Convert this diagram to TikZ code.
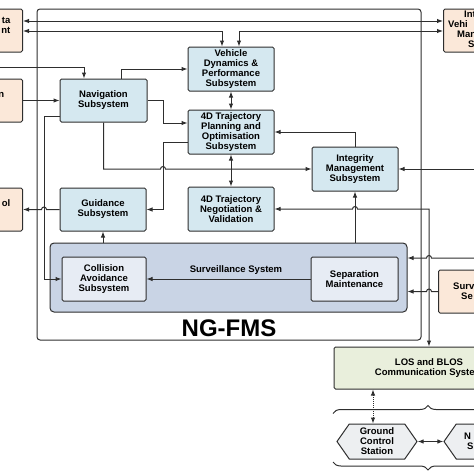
\documentclass[tikz,border=0pt]{standalone}
\usepackage{fontspec}
\setmainfont{Liberation Sans}
\usepackage{tikz}
\usetikzlibrary{arrows.meta,shapes.symbols,decorations.pathreplacing}
\definecolor{edge}{HTML}{2E2E2E}
\definecolor{subblue}{HTML}{D5E8F0}
\definecolor{survfill}{HTML}{C9D4E5}
\definecolor{innerfill}{HTML}{E7ECF4}
\definecolor{extfill}{HTML}{FBE8D9}
\definecolor{commfill}{HTML}{E9EFDC}
\definecolor{hexfill}{HTML}{EDEFF1}
\newcommand{\boxfont}{\fontsize{9.5}{10}\selectfont\bfseries}

\begin{document}
\begin{tikzpicture}[x=1pt,y=1pt,>={Latex[length=6pt,width=4.5pt]},
        sub/.style={draw=edge,fill=subblue,line width=1pt,rounded corners=1.5pt,minimum width=86pt,minimum height=44pt,align=center,font=\boxfont},
        innerbox/.style={sub,fill=innerfill},
        ext/.style={draw=edge,fill=extfill,line width=1pt,rounded corners=1.5pt,minimum height=43pt},
        frag/.style={align=left,font=\boxfont},
        wire/.style={draw=edge,line width=1pt},
        hexa/.style={draw=edge,fill=hexfill,line width=1pt,signal,signal to=west and east,signal pointer angle=110,minimum height=35pt,minimum width=80pt,align=center,font=\boxfont},
        curly/.style={draw=edge,line width=1pt,decorate,decoration={brace,amplitude=8pt}}]
        \tikzstyle{every node}+=[inner sep=0pt]
        \useasboundingbox (0,0) rectangle (474,-474);
        \clip (0,0) rectangle (474,-474);
        % NG-FMS frame and surveillance system
        \node [draw=edge,line width=1pt,rounded corners=3pt,minimum width=384pt,minimum height=331pt] (ngfms) at (229,-174.5) {};
        \node [font=\fontsize{24}{24}\selectfont\bfseries] (ngfmslbl) at (229,-328) {NG-FMS};
        \node [draw=edge,fill=survfill,line width=1pt,rounded corners=4pt,minimum width=357pt,minimum height=69pt] (survsys) at (228.5,-277.5) {};
        % subsystems
        \node [sub] (vehdyn) at (231,-69) {Vehicle\\Dynamics \&\\Performance\\Subsystem};
        \node [sub] (planning) at (231,-132) {4D Trajectory\\Planning and\\Optimisation\\Subsystem};
        \node [sub,minimum width=87pt,minimum height=43pt] (nav) at (103.5,-100.5) {Navigation\\Subsystem};
        \node [sub,minimum height=43pt] (guid) at (103,-209.5) {Guidance\\Subsystem};
        \node [sub] (negot) at (231,-209) {4D Trajectory\\Negotiation \&\\Validation};
        \node [sub] (integ) at (355,-169) {Integrity\\Management\\Subsystem};
        \node [innerbox,minimum width=84pt] (collision) at (104,-279) {Collision\\Avoidance\\Subsystem};
        \node [innerbox,minimum width=87pt] (sepmaint) at (354.5,-279) {Separation\\Maintenance};
        \node [font=\boxfont] (survlbl) at (236,-270) {Surveillance System};
        % outside blocks
        \node [ext,anchor=east,minimum width=80pt] (datamgmt) at (23,-30.5) {};
        \node [frag,anchor=east,align=right] (datatxt) at (10.5,-25.5) {ta\\nt};
        \node [ext,anchor=east,minimum width=80pt] (navsens) at (23,-100.5) {};
        \node [frag,anchor=east] (navsenstxt) at (4.5,-94.5) {n};
        \node [ext,anchor=east,minimum width=80pt] (fltctrl) at (23,-209.5) {};
        \node [frag,anchor=east] (fltctrltxt) at (10.5,-203.5) {ol};
        \node [ext,anchor=west,minimum width=90pt] (ivhm) at (443,-30.5) {};
        \node [frag,anchor=west] (ivhmtxt) at (448,-29.5) {\hspace*{16pt}Int\\Vehi\\\hspace*{9pt}Man\\\hspace*{20pt}S};
        \node [ext,anchor=west,minimum width=90pt] (survsens) at (438,-291.5) {};
        \node [frag,anchor=west] (survsenstxt) at (453,-291) {Surv\\\hspace*{8pt}Se};
        \node [draw=edge,fill=commfill,line width=1pt,rounded corners=1.5pt,minimum width=190pt,minimum height=42pt,align=center,font=\boxfont] (los) at (429,-368) {LOS and BLOS\\Communication Syste\phantom{m}};
        \node [hexa] (gcs) at (377,-441.5) {Ground\\Control\\Station};
        \node [hexa] (hexnext) at (484,-441.5) {};
        \node [frag,anchor=west] (hexnexttxt) at (464,-441.5) {N\\\hspace*{3pt}S};
        \draw [curly] (333,-413.5) -- (523,-413.5);
        \draw [curly] (523,-462) -- (333,-462);
        \coordinate (leftin) at (-5,-67);
        \coordinate (rightin) at (480,-169);
        \coordinate (survin) at (480,-258);
        % connectors
        \draw [wire,<->] (datamgmt.east |- 0,-21) -- (ivhm.west |- 0,-21);
        \draw [wire,<->] (datamgmt.east |- 0,-31) -| ([xshift=-9pt]vehdyn.north);
        \draw [wire,<->] ([xshift=8pt]vehdyn.north) |- (ivhm.west |- 0,-31);
        \draw [wire,->] (leftin) -| ([xshift=-19.5pt]nav.north);
        \draw [wire,->] (navsens) -- (nav);
        \draw [wire,->] ([xshift=17.5pt]nav.north) |- (vehdyn.west);
        \draw [wire,->] (nav.east) -- ++(16,0) |- ([yshift=9pt]planning.west);
        \draw [wire,->] (nav.south) |- (160.5,-169) arc (180:0:2.5) -- (integ.west);
        \draw [wire,->] ([yshift=-10pt]planning.west) -- (163,-142) |- (guid.east);
        \draw [wire,<->] (vehdyn) -- (planning);
        \draw [wire,<->] (planning) -- (negot);
        \draw [wire,->] (integ.north) |- (planning.east);
        \draw [wire,->] (rightin) -- (integ.east);
        \draw [wire,<->] (los.north) |- (357.5,-209) arc (0:180:2.5) -- (negot.east);
        \draw [wire,->] (survsys.north -| integ) -- (integ.south);
        \draw [wire,->] (survsys.north -| guid) -- (guid.south);
        \draw [wire,->] ([yshift=-15.5pt]nav.west) -- (44,-116) |- (collision.west);
        \draw [wire,->] (guid.west) -- (46.5,-209.5) arc (0:180:2.5) -- (fltctrl.east);
        \draw [wire,->] (sepmaint) -- (collision);
        \draw [wire,->] (survin) -- (431.5,-258) arc (0:180:2.5) -- (survsys.east |- 0,-258);
        \draw [wire,->] (survsens.west) -- (431.5,-291.5) arc (0:180:2.5) -- (survsys.east |- 0,-291.5);
        \draw [wire,<->,densely dotted] (los.south -| 373,0) -- (gcs.north -| 373,0);
        \draw [wire,<->] (gcs.east) -- (hexnext.west);
\end{tikzpicture}
\end{document}
